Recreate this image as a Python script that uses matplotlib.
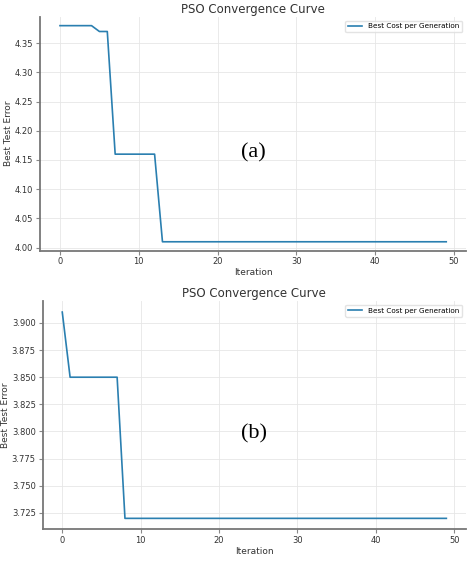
import matplotlib
matplotlib.use("Agg")
import matplotlib.pyplot as plt
import numpy as np

iters = list(range(50))
cost_a = [4.38]*5 + [4.37]*2 + [4.16]*6 + [4.01]*37
cost_b = [3.91] + [3.85]*7 + [3.72]*42

fig = plt.figure(figsize=(4.74, 5.63), dpi=100)
axes = [fig.add_axes([0.085, 0.555, 0.898, 0.415]),
        fig.add_axes([0.09, 0.06, 0.893, 0.405])]
datas = [cost_a, cost_b]
labels = ["(a)", "(b)"]
yticks = [np.arange(4.00, 4.351, 0.05), np.arange(3.725, 3.901, 0.025)]
fmts = ["{:.2f}", "{:.3f}"]
for ax, d, lab, yt, f in zip(axes, datas, labels, yticks, fmts):
    ax.plot(iters, d, color="#2a7fb0", lw=1.2, label="Best Cost per Generation")
    ax.set_title("PSO Convergence Curve", fontsize=8.5, color="#333333", pad=3)
    ax.set_xlabel("Iteration", fontsize=6.5, color="#333333", labelpad=1)
    ax.set_ylabel("Best Test Error", fontsize=6.5, color="#333333", labelpad=1)
    ax.set_yticks(yt)
    ax.set_yticklabels([f.format(v) for v in yt])
    ax.set_xticks([0, 10, 20, 30, 40, 50])
    ax.tick_params(labelsize=6, colors="#333333", length=3, pad=2, color="#888888")
    ax.grid(True, color="#e6e6e6", lw=0.6)
    for s in ["top", "right"]:
        ax.spines[s].set_visible(False)
    for s in ["left", "bottom"]:
        ax.spines[s].set_color("#777777")
        ax.spines[s].set_linewidth(1.3)
    ax.legend(loc="upper right", fontsize=5.2, frameon=True, edgecolor="#dddddd", handlelength=2)
    ax.text(0.5, 0.42, lab, transform=ax.transAxes, ha="center", va="center",
            fontsize=16, family="Liberation Serif")
axes[0].set_xlim(-2.5, 51.5)
axes[0].set_ylim(3.995, 4.395)
axes[1].set_xlim(-2.5, 51.5)
axes[1].set_ylim(3.71, 3.92)
fig.savefig("out.png", dpi=100)
